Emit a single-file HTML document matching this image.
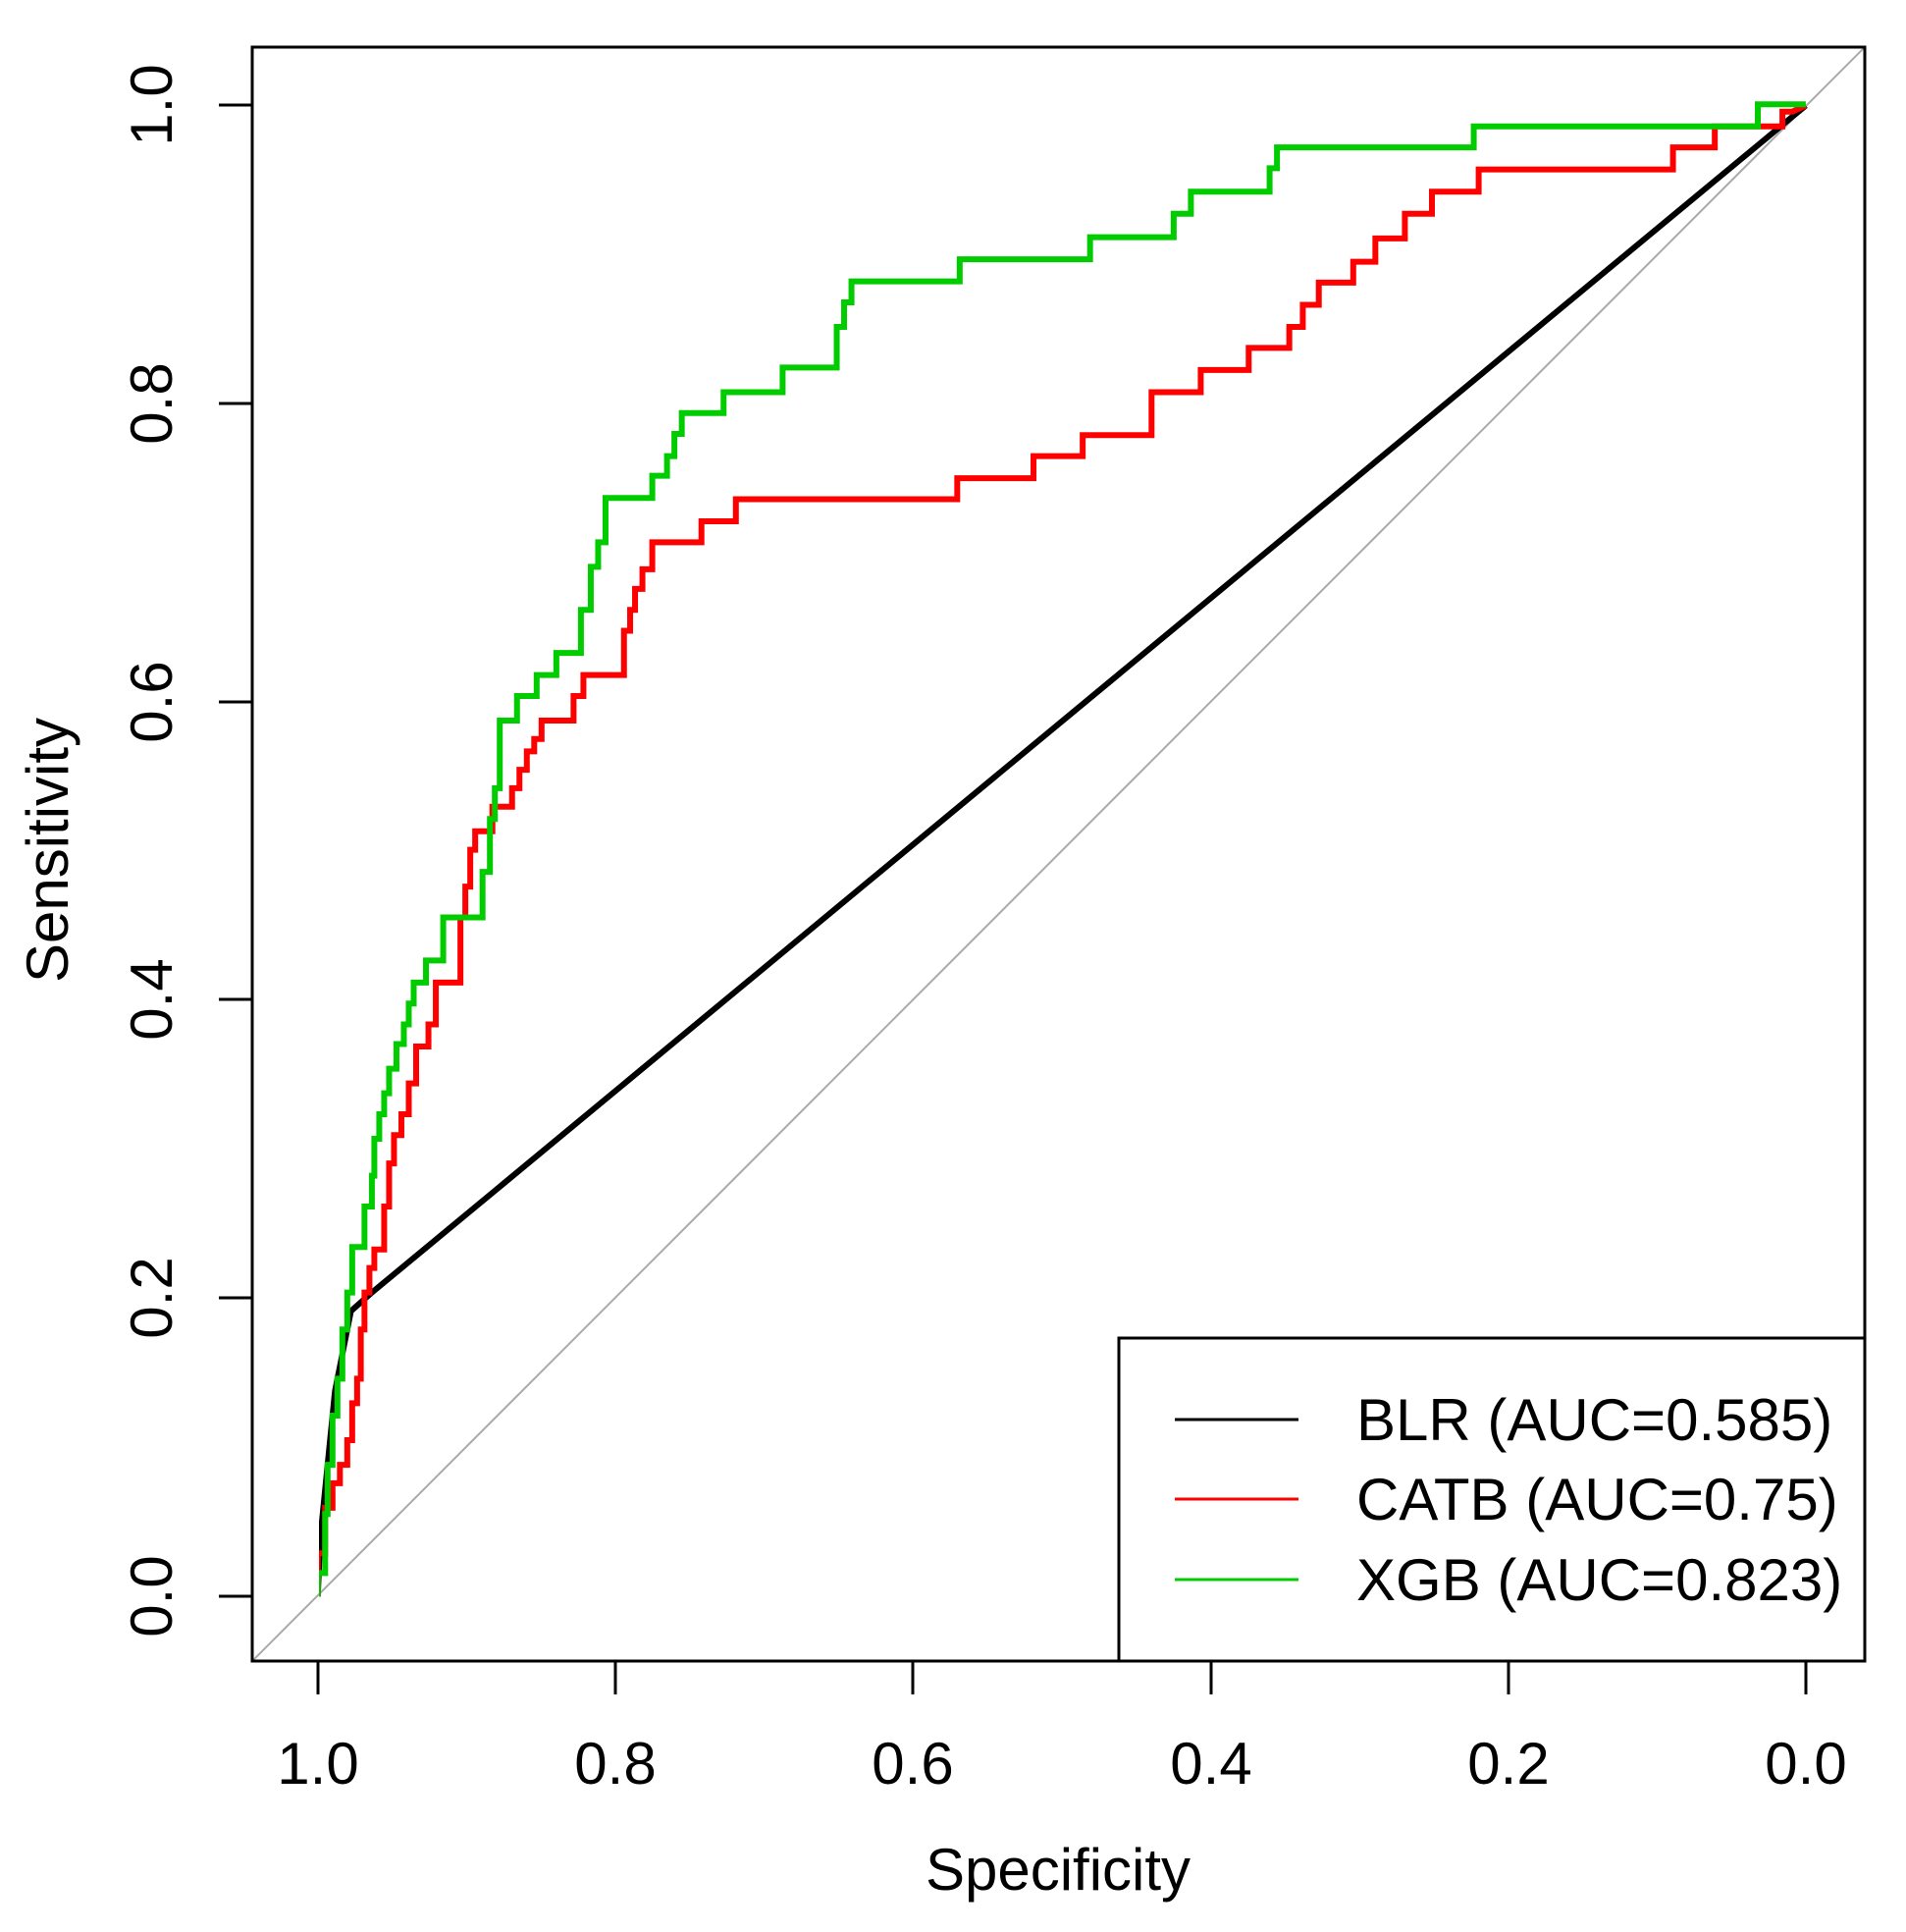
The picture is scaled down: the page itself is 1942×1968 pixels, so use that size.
<!DOCTYPE html>
<html><head><meta charset="utf-8"><style>
html,body{margin:0;padding:0;background:#fff;}
svg{display:block;}
text{font-family:"Liberation Sans",Arial,sans-serif;fill:#000;}
</style></head><body>
<svg width="1942" height="1968" viewBox="0 0 1942 1968" xmlns="http://www.w3.org/2000/svg">
<defs><clipPath id="c"><rect x="257" y="48" width="1643" height="1644"/></clipPath></defs>
<rect width="1942" height="1968" fill="#fff"/>
<line x1="257" y1="1692" x2="1900" y2="48" stroke="#aaa" stroke-width="2" clip-path="url(#c)"/>
<g transform="translate(3,1) scale(1.253)" fill="none" stroke-linejoin="miter" clip-path="url(#c)">
<polyline stroke="#000" stroke-width="6" vector-effect="non-scaling-stroke" points="256,1297 258,1250 264,1190 270,1130 276,1100 283,1065 300,1050 1466,85"/>
<polyline stroke="#ff0000" stroke-width="6" vector-effect="non-scaling-stroke" points="256,1297 256,1262 262,1262 262,1225 268,1225 268,1205 274,1205 274,1190 280,1190 280,1170 284,1170 284,1140 288,1140 288,1120 291,1120 291,1080 294,1080 294,1050 298,1050 298,1030 302,1030 302,1015 310,1015 310,980 314,980 314,945 318,945 318,922 324,922 324,905 330,905 330,880 336,880 336,850 346,850 346,832 352,832 352,798 372,798 372,745 376,745 376,720 380,720 380,690 384,690 384,675 398,675 398,655 414,655 414,640 420,640 420,625 426,625 426,610 432,610 432,600 438,600 438,585 464,585 464,565 472,565 472,548 505,548 505,512 510,512 510,495 514,495 514,478 520,478 520,462 528,462 528,440 568,440 568,423 596,423 596,405 776,405 776,388 838,388 838,370 878,370 878,353 934,353 934,318 974,318 974,300 1013,300 1013,282 1046,282 1046,265 1057,265 1057,247 1070,247 1070,229 1098,229 1098,212 1116,212 1116,193 1140,193 1140,173 1162,173 1162,155 1200,155 1200,137 1358,137 1358,119 1392,119 1392,102 1447,102 1447,90 1455,90 1466,85"/>
<polyline stroke="#00cc00" stroke-width="6" vector-effect="non-scaling-stroke" points="256,1297 256,1278 262,1278 262,1230 264,1230 264,1190 268,1190 268,1150 272,1150 272,1120 276,1120 276,1080 280,1080 280,1050 284,1050 284,1013 294,1013 294,980 300,980 300,955 302,955 302,925 306,925 306,905 310,905 310,888 314,888 314,868 320,868 320,848 326,848 326,832 330,832 330,815 334,815 334,798 344,798 344,780 358,780 358,745 390,745 390,708 396,708 396,665 400,665 400,640 404,640 404,585 418,585 418,565 434,565 434,548 450,548 450,530 470,530 470,495 478,495 478,460 484,460 484,440 490,440 490,404 528,404 528,386 540,386 540,370 546,370 546,352 552,352 552,335 586,335 586,318 634,318 634,298 678,298 678,265 684,265 684,245 690,245 690,228 778,228 778,210 884,210 884,192 952,192 952,173 966,173 966,155 1030,155 1030,136 1036,136 1036,119 1196,119 1196,102 1427,102 1427,84 1466,84"/>
</g>
<rect x="1140" y="1363" width="760" height="329" fill="#fff" stroke="#000" stroke-width="3"/>
<line x1="1197" y1="1446" x2="1323" y2="1446" stroke="#000" stroke-width="3"/>
<line x1="1197" y1="1527" x2="1323" y2="1527" stroke="#ff0000" stroke-width="3"/>
<line x1="1197" y1="1609" x2="1323" y2="1609" stroke="#00cc00" stroke-width="3"/>
<g font-size="60">
<text x="1382" y="1467">BLR (AUC=0.585)</text>
<text x="1382" y="1548">CATB (AUC=0.75)</text>
<text x="1382" y="1630">XGB (AUC=0.823)</text>
</g>
<rect x="257" y="48" width="1643" height="1644" fill="none" stroke="#000" stroke-width="3"/>
<g stroke="#000" stroke-width="3">
<line x1="324" y1="1692" x2="1840" y2="1692"/>
<line x1="324" y1="1692" x2="324" y2="1726"/>
<line x1="627" y1="1692" x2="627" y2="1726"/>
<line x1="930" y1="1692" x2="930" y2="1726"/>
<line x1="1234" y1="1692" x2="1234" y2="1726"/>
<line x1="1537" y1="1692" x2="1537" y2="1726"/>
<line x1="1840" y1="1692" x2="1840" y2="1726"/>
</g>
<g font-size="60" text-anchor="middle">
<text x="324" y="1817">1.0</text>
<text x="627" y="1817">0.8</text>
<text x="930" y="1817">0.6</text>
<text x="1234" y="1817">0.4</text>
<text x="1537" y="1817">0.2</text>
<text x="1840" y="1817">0.0</text>
<text x="1078" y="1925">Specificity</text>
</g>
<g stroke="#000" stroke-width="3">
<line x1="257" y1="107" x2="257" y2="1626"/>
<line x1="223" y1="107" x2="257" y2="107"/>
<line x1="223" y1="411" x2="257" y2="411"/>
<line x1="223" y1="715" x2="257" y2="715"/>
<line x1="223" y1="1018" x2="257" y2="1018"/>
<line x1="223" y1="1322" x2="257" y2="1322"/>
<line x1="223" y1="1626" x2="257" y2="1626"/>
</g>
<g font-size="60" text-anchor="middle">
<text transform="translate(175,107) rotate(-90)">1.0</text>
<text transform="translate(175,411) rotate(-90)">0.8</text>
<text transform="translate(175,715) rotate(-90)">0.6</text>
<text transform="translate(175,1018) rotate(-90)">0.4</text>
<text transform="translate(175,1322) rotate(-90)">0.2</text>
<text transform="translate(175,1626) rotate(-90)">0.0</text>
<text transform="translate(69,866) rotate(-90)">Sensitivity</text>
</g>
</svg>
</body></html>
